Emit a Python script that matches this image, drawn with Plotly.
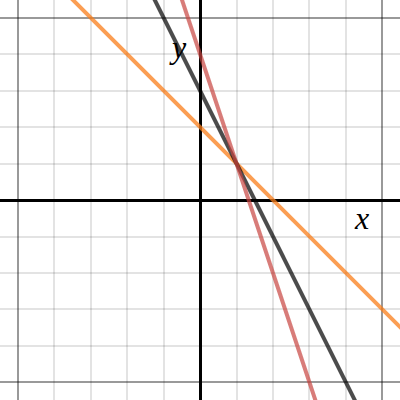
import plotly.graph_objects as go

# Lines y = m*x + b
names = ["orange", "black", "red"]
slopes = [-1, -2, -3]
intercepts = [2, 3, 4]
colors = ["rgba(250,126,25,0.75)", "rgba(0,0,0,0.7)", "rgba(199,68,64,0.7)"]

x_range = [-5.48, 5.48]
x_ends = [-7, 7]

fig = go.Figure()

for name, m, b, c in zip(names, slopes, intercepts, colors):
    fig.add_trace(go.Scatter(
        x=x_ends, y=[m * x + b for x in x_ends],
        mode="lines", name=name,
        line=dict(color=c, width=4),
        hoverinfo="skip",
    ))

axis_style = dict(
    range=x_range,
    showticklabels=False,
    ticks="",
    dtick=5,
    tick0=0,
    showgrid=True,
    gridcolor="rgba(0,0,0,0.4)",
    gridwidth=2,
    minor=dict(dtick=1, showgrid=True, gridcolor="rgba(0,0,0,0.11)", gridwidth=2),
    zeroline=True,
    zerolinecolor="black",
    zerolinewidth=2.5,
    showline=False,
    fixedrange=True,
)

fig.update_layout(
    width=400, height=400,
    margin=dict(l=0, r=0, t=0, b=0),
    plot_bgcolor="white",
    paper_bgcolor="white",
    showlegend=False,
    xaxis=axis_style,
    yaxis=dict(axis_style),
    annotations=[
        dict(x=4.42, y=-0.5, xref="x", yref="y", text="<i>x</i>", showarrow=False,
             font=dict(family="Liberation Serif", size=32, color="black")),
        dict(x=-0.6, y=4.18, xref="x", yref="y", text="<i>y</i>", showarrow=False,
             font=dict(family="Liberation Serif", size=32, color="black")),
    ],
)

# drop the page's default body margin so the 400px plot fills the window
fig.write_html("out.html", config={"displayModeBar": False},
               post_script="document.body.style.margin='0';")
